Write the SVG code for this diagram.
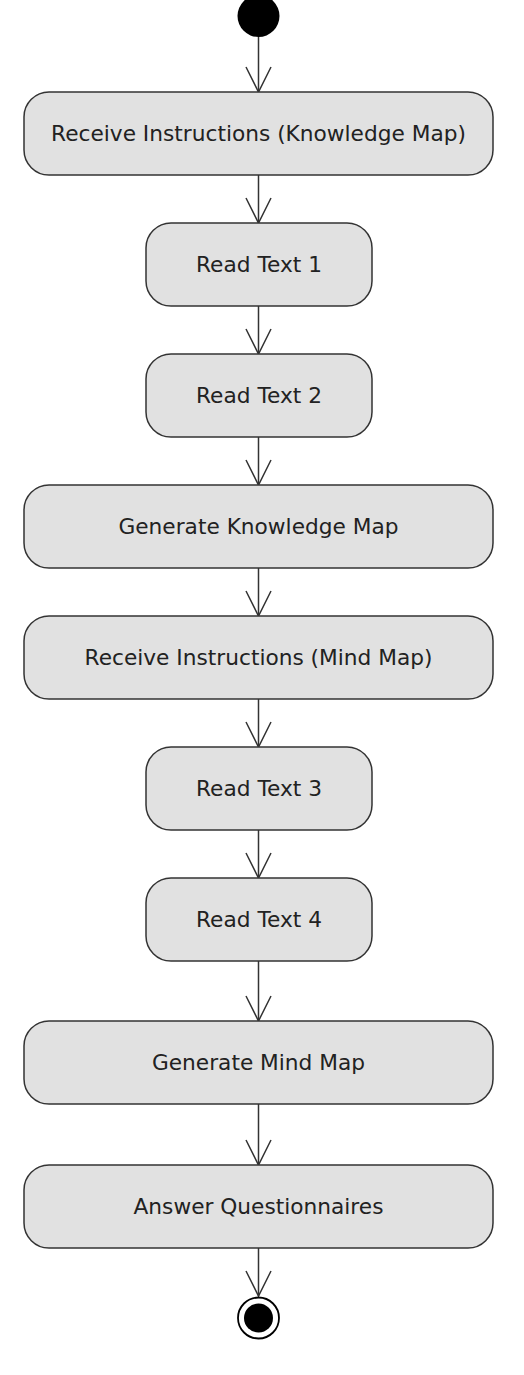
<svg xmlns="http://www.w3.org/2000/svg" width="524" height="1375" viewBox="0 0 524 1375">
<style>
.node rect{fill:#e1e1e1;stroke:#333;stroke-width:1.5}
.node text{font-family:"DejaVu Sans",sans-serif;font-size:21.7px;fill:#222;text-anchor:middle}
.edge{stroke:#333;stroke-width:1.5;fill:none;marker-end:url(#arr)}
</style>
<defs>
<marker id="arr" markerUnits="userSpaceOnUse" markerWidth="30" markerHeight="30" viewBox="-2 -2 30 30" refX="25" refY="12.5" orient="auto">
<path d="M0,0 L25,12.5 L0,25" fill="none" stroke="#333" stroke-width="1.5"/>
</marker>
</defs>
<rect width="524" height="1375" fill="#fff"/>
<g id="connectors">
<line class="edge" x1="258.5" y1="37" x2="258.5" y2="92"/>
<line class="edge" x1="258.5" y1="175" x2="258.5" y2="223"/>
<line class="edge" x1="258.5" y1="306" x2="258.5" y2="354"/>
<line class="edge" x1="258.5" y1="437" x2="258.5" y2="485"/>
<line class="edge" x1="258.5" y1="568" x2="258.5" y2="616"/>
<line class="edge" x1="258.5" y1="699" x2="258.5" y2="747"/>
<line class="edge" x1="258.5" y1="830" x2="258.5" y2="878"/>
<line class="edge" x1="258.5" y1="961" x2="258.5" y2="1021"/>
<line class="edge" x1="258.5" y1="1104" x2="258.5" y2="1165"/>
<line class="edge" x1="258.5" y1="1248" x2="258.5" y2="1296"/>
</g>
<g id="start"><circle cx="258.5" cy="16" r="21" fill="#000"/></g>
<g id="n1" class="node"><rect x="24" y="92" width="469" height="83" rx="25"/><text x="258.5" y="140.5">Receive Instructions (Knowledge Map)</text></g>
<g id="n2" class="node"><rect x="146" y="223" width="226" height="83" rx="25"/><text x="259" y="271.5">Read Text 1</text></g>
<g id="n3" class="node"><rect x="146" y="354" width="226" height="83" rx="25"/><text x="259" y="402.5">Read Text 2</text></g>
<g id="n4" class="node"><rect x="24" y="485" width="469" height="83" rx="25"/><text x="258.5" y="533.5">Generate Knowledge Map</text></g>
<g id="n5" class="node"><rect x="24" y="616" width="469" height="83" rx="25"/><text x="258.5" y="664.5">Receive Instructions (Mind Map)</text></g>
<g id="n6" class="node"><rect x="146" y="747" width="226" height="83" rx="25"/><text x="259" y="795.5">Read Text 3</text></g>
<g id="n7" class="node"><rect x="146" y="878" width="226" height="83" rx="25"/><text x="259" y="926.5">Read Text 4</text></g>
<g id="n8" class="node"><rect x="24" y="1021" width="469" height="83" rx="25"/><text x="258.5" y="1069.5">Generate Mind Map</text></g>
<g id="n9" class="node"><rect x="24" y="1165" width="469" height="83" rx="25"/><text x="258.5" y="1213.5">Answer Questionnaires</text></g>
<g id="end"><circle cx="258.5" cy="1318" r="20.5" fill="#fff" stroke="#000" stroke-width="1.8"/><circle cx="258.5" cy="1318" r="14.5" fill="#000"/></g>
</svg>
